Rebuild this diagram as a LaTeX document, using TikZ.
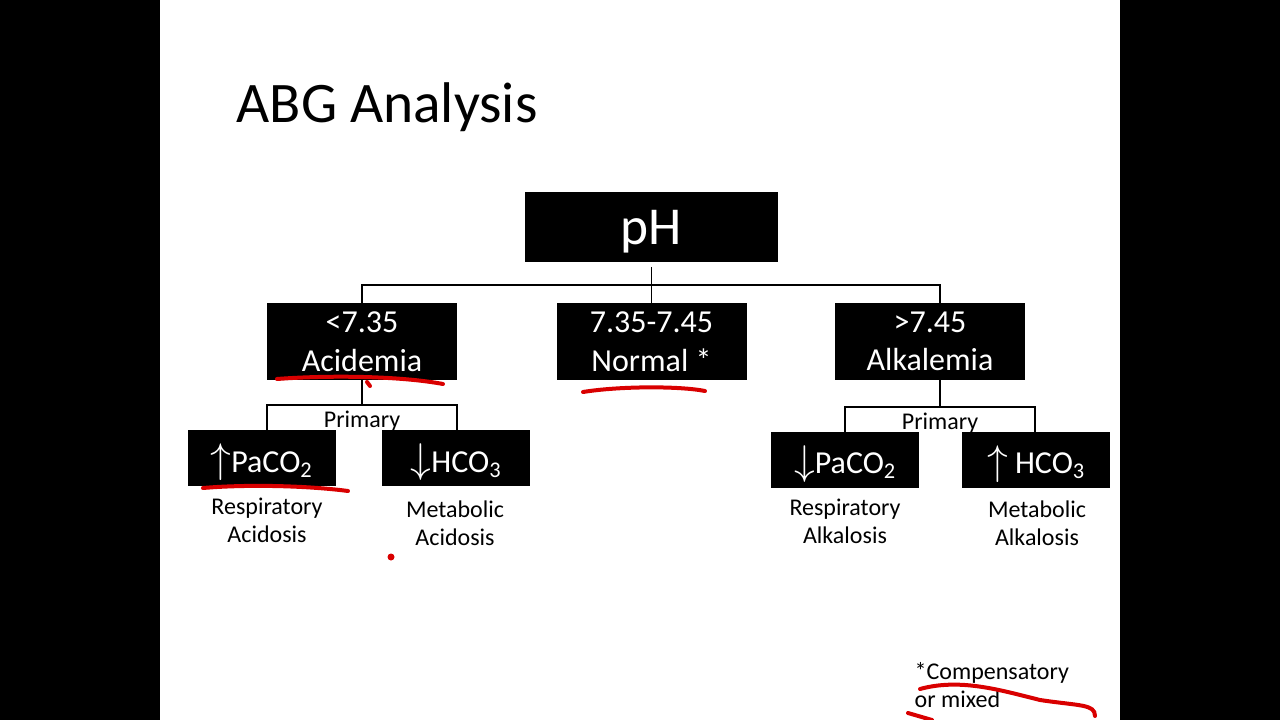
\documentclass[tikz,border=0pt]{standalone}
\usepackage{fontspec}
\setmainfont{Carlito}
\usepackage{tikz}

\newcommand{\up}{\raisebox{-0.5pt}{\scalebox{1.25}{$\uparrow$}}}
\newcommand{\dn}{\raisebox{-0.5pt}{\scalebox{1.25}{$\downarrow$}}}

\tikzset{
  blackbox/.style={fill=black,text=white,inner sep=0pt,align=center},
  levelbox/.style={blackbox,minimum width=142.5pt,minimum height=57.75pt,font=\fontsize{24}{29}\selectfont},
  leafbox/.style={blackbox,minimum width=111pt,minimum height=42pt,text depth=0pt,font=\fontsize{24}{28}\selectfont},
  caption/.style={align=center,font=\fontsize{18}{21}\selectfont},
  link/.style={line width=0.8pt},
  pen/.style={red!85!black,line width=3pt,line cap=round}
}

\begin{document}
\begin{tikzpicture}[x=0.75pt,y=-0.75pt]
  % frame
  \useasboundingbox (0,0) rectangle (1280,720);
  \fill[black] (0,0) rectangle (160,720);
  \fill[black] (1120,0) rectangle (1280,720);

  \node[anchor=west,font=\fontsize{43}{50}\selectfont] (title) at (232,107) {ABG Analysis};

  % top
  \node[blackbox,minimum width=189.75pt,minimum height=51.75pt,text depth=0pt,font=\fontsize{40}{46}\selectfont] (ph) at (651.5,227) {pH};

  % level two
  \node[levelbox] (acid) at (362,341.5) {<7.35\\Acidemia};
  \node[levelbox] (norm) at (651.5,341.5) {7.35-7.45\\Normal *};
  \node[levelbox] (alka) at (930,341.5) {>7.45\\Alkalemia};

  \coordinate (bus) at (651.5,285);
  \draw[link] (ph.south) ++(0,5) -- (norm.north);
  \draw[link] (acid.north) |- (bus) -| (940,303);

  % level three, acidemia
  \node[leafbox] (upco) at (261.5,458) {\up PaCO\textsubscript{2}};
  \node[leafbox] (dnhc) at (456,458) {\dn HCO\textsubscript{3}};
  \coordinate (abus) at (362,405);
  \draw[link] (acid.south) -- (abus);
  \draw[link] (267,430) |- (abus) -| (457,430);
  \node[caption] (aprim) at (362,421) {Primary};
  \node[caption] (resac) at (267,520) {Respiratory\\Acidosis};
  \node[caption] (metac) at (455,523) {Metabolic\\Acidosis};

  % level three, alkalemia
  \node[leafbox] (dnco) at (845,459.5) {\dn PaCO\textsubscript{2}};
  \node[leafbox] (uphc) at (1036,459.5) {\up{} HCO\textsubscript{3}};
  \coordinate (lbus) at (940,407);
  \draw[link] (940,380) -- (lbus);
  \draw[link] (845,432) |- (lbus) -| (1035,432);
  \node[caption] (lprim) at (940,423) {Primary};
  \node[caption] (resal) at (845,521) {Respiratory\\Alkalosis};
  \node[caption] (metal) at (1037,523) {Metabolic\\Alkalosis};

  \node[caption,align=left,anchor=west] (note) at (910,685) {*Compensatory\\or mixed};

  % red pen marks
  \draw[pen] (277,379) .. controls (330,375) and (400,376) .. (443,384);
  \draw[pen] (367,382) -- (370,386);
  \draw[pen] (583,392) .. controls (620,386) and (680,386) .. (705,391);
  \draw[pen] (203,488) .. controls (250,484) and (310,486) .. (348,491);
  \fill[red!85!black] (391,557) circle (3.5);
  \draw[pen] (920,689) .. controls (960,678) and (1000,690) .. (1040,700) .. controls (1080,706) and (1095,704) .. (1095,716);
  \draw[pen] (908,713) -- (932,720);
\end{tikzpicture}
\end{document}
